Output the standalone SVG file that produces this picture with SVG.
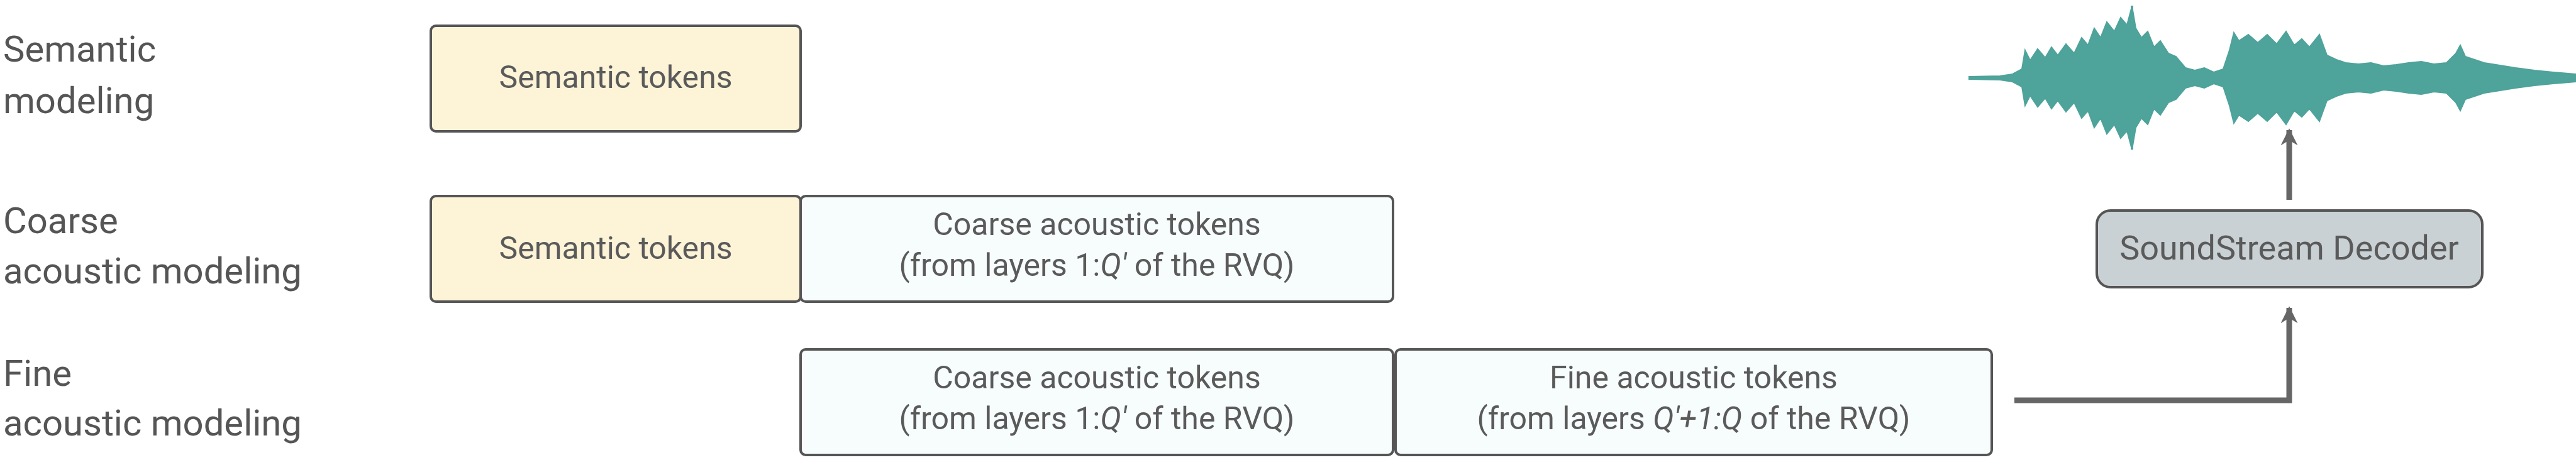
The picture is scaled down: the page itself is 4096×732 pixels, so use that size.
<svg xmlns="http://www.w3.org/2000/svg" width="4096" height="732" viewBox="0 0 4096 732">
<style>
.lbl{font-family:Roboto,"Liberation Sans",sans-serif;font-size:58px;fill:#555}
.bt{font-family:Roboto,"Liberation Sans",sans-serif;font-size:50px;fill:#5a5a5a;text-anchor:middle}
.box{stroke:#555;stroke-width:4}
.sem{fill:#fdf4d8}
.ac{fill:#f7fcfc}
.dec{fill:#c9d1d4}
.conn{fill:none;stroke:#666;stroke-width:9}
.wave{fill:#4ea39b;stroke:#4ea39b;stroke-width:2}
</style>
<defs>
<marker id="ah" viewBox="0 0 10 10" refX="9" refY="5" markerWidth="3" markerHeight="3" orient="auto" markerUnits="strokeWidth">
<path d="M0,0 L10,5 L0,10 L3,5 Z" fill="#666"/>
</marker>
<path id="env" d="M3131,124 L3131,122 L3180,121 L3200,118 L3215,110 L3220,80 L3228,96 L3240,78 L3252,92 L3262,75 L3272,88 L3285,70 L3298,85 L3310,60 L3320,72 L3330,45 L3340,60 L3350,35 L3362,50 L3372,28 L3382,40 L3390,10 L3396,45 L3405,60 L3415,50 L3425,75 L3435,65 L3448,85 L3460,90 L3475,108 L3490,112 L3505,108 L3520,115 L3535,110 L3545,80 L3552,52 L3560,65 L3575,55 L3590,68 L3605,55 L3620,70 L3635,50 L3648,72 L3660,62 L3672,75 L3688,55 L3700,88 L3715,95 L3730,100 L3750,102 L3770,100 L3790,105 L3810,103 L3830,100 L3850,98 L3870,102 L3890,100 L3905,85 L3912,72 L3920,90 L3935,95 L3950,100 L3975,104 L4000,108 L4030,112 L4060,115 L4096,118 L4096,124 Z"/>
</defs>
<g id="labels">
<text class="lbl" x="5" y="98">Semantic</text>
<text class="lbl" x="5" y="180">modeling</text>
<text class="lbl" x="5" y="371">Coarse</text>
<text class="lbl" x="5" y="451">acoustic modeling</text>
<text class="lbl" x="5" y="614">Fine</text>
<text class="lbl" x="5" y="693">acoustic modeling</text>
</g>
<g id="n1"><rect class="box sem" x="685" y="41" width="588" height="168" rx="8"/><text class="bt" x="979" y="140">Semantic tokens</text></g>
<g id="n2"><rect class="box sem" x="685" y="312" width="588" height="168" rx="8"/><text class="bt" x="979" y="412">Semantic tokens</text></g>
<g id="n3"><rect class="box ac" x="1273" y="312" width="942" height="168" rx="8"/><text class="bt" x="1744" y="374">Coarse acoustic tokens</text><text class="bt" x="1744" y="439">(from layers 1:<tspan font-style="italic">Q′</tspan> of the RVQ)</text></g>
<g id="n4"><rect class="box ac" x="1273" y="556" width="942" height="168" rx="8"/><text class="bt" x="1744" y="618">Coarse acoustic tokens</text><text class="bt" x="1744" y="683">(from layers 1:<tspan font-style="italic">Q′</tspan> of the RVQ)</text></g>
<g id="n5"><rect class="box ac" x="2219" y="556" width="948" height="168" rx="8"/><text class="bt" x="2693" y="618">Fine acoustic tokens</text><text class="bt" x="2693" y="683">(from layers <tspan font-style="italic">Q′+1:Q</tspan> of the RVQ)</text></g>
<g id="n6"><rect class="box dec" x="3334" y="335" width="613" height="122" rx="22"/><text class="bt" x="3640" y="413" style="font-size:54px">SoundStream Decoder</text></g>
<g id="n7">
<use href="#env" class="wave"/>
<use href="#env" class="wave" transform="translate(0,248) scale(1,-1)"/>
<line x1="3390" y1="9" x2="3390" y2="238" stroke="#4ea39b" stroke-width="4"/>
</g>
<g id="connectors">
<path class="conn" d="M3203,637 H3640 V490" marker-end="url(#ah)"/>
<path class="conn" d="M3640,318 V207" marker-end="url(#ah)"/>
</g>
</svg>
